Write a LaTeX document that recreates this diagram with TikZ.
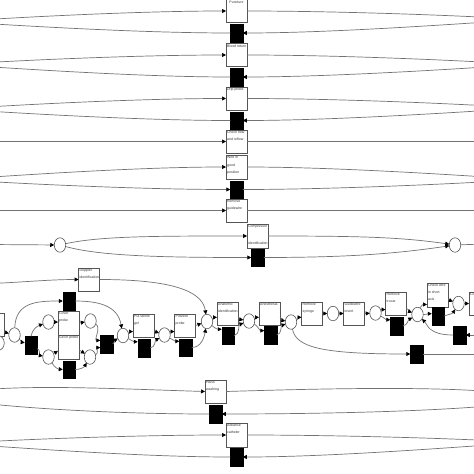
\documentclass[tikz,border=0pt]{standalone}
\usepackage{fontspec}
\setmainfont{Liberation Sans}
\usetikzlibrary{arrows.meta,shapes.geometric,calc}
\definecolor{linec}{HTML}{737373}
\definecolor{boxc}{HTML}{555555}
\definecolor{txtc}{HTML}{333333}
\tikzset{
 tbox/.style={draw=boxc,line width=0.6pt,fill=white,minimum width=21pt,minimum height=23pt,inner sep=0pt,outer sep=0pt},
 blk/.style={draw=black,fill=black,line width=0.2pt,minimum width=12.5pt,minimum height=17.5pt,inner sep=0pt,outer sep=0pt},
 pl/.style={ellipse,draw=boxc,line width=0.6pt,fill=white,minimum width=11.5pt,minimum height=14.5pt,inner sep=0pt,outer sep=0pt},
 conn/.style={draw=linec,line width=0.7pt},
 conna/.style={conn,-{Triangle[length=4pt,width=4pt,color=black]}},
 lbl/.style={font=\fontsize{3.5}{6.8}\selectfont,text=txtc,align=left,inner sep=1pt,anchor=north west},
}
\newcommand{\drawlens}[4]{%
 \draw[conna] (#1) .. controls +(60,4) and +(-90,0) .. (#2.west);
 \draw[conn] (#2.east) .. controls +(90,0) and +(-60,4) .. (#4);
 \draw[conna] (#4) .. controls +(-60,-4) and +(90,0) .. (#3.east);
 \draw[conn] (#3.west) .. controls +(-90,0) and +(60,-4) .. (#1);
}
\begin{document}
\begin{tikzpicture}[x=1pt,y=1pt]
\useasboundingbox (0,0) rectangle (474,-474);
\clip (0,0) rectangle (474,-474);
\fill[white] (0,0) rectangle (474,-474);

% ---------- top column ----------
\node[tbox] (P1) at (236.5,-11) {};
\node[lbl,anchor=north,align=center] (P1t) at (P1.north) {Puncture};
\node[blk] (T1) at (236.5,-33) {};
\node[tbox] (P2) at (236.5,-55) {};
\node[lbl] (P2t) at (P2.north west) {Blood return};
\node[blk] (T2) at (236.5,-77) {};
\node[tbox] (P3) at (236.5,-98.5) {};
\node[lbl] (P3t) at (P3.north west) {Drip probe};
\node[blk] (T3) at (236.5,-120.5) {};
\node[tbox] (P4) at (236.5,-141.5) {};
\node[lbl] (P4t) at (P4.north west) {Check flow\\and reflow};
\node[tbox,minimum height=24pt] (P5) at (236.5,-167) {};
\node[lbl,font=\fontsize{3.5}{7.5}\selectfont] (P5t) at (P5.north west) {Wire in\\good\\position};
\node[blk] (T5) at (236.5,-189.5) {};
\node[tbox] (P6) at (236.5,-210.5) {};
\node[lbl] (P6t) at (P6.north west) {Remove\\guidewire};
\node[tbox,minimum height=24pt] (P7) at (257.5,-236) {};
\node[lbl] (P7t) at (P7.north west) {Compressor\\[10pt]identification};
\node[blk] (T7) at (257.5,-257.5) {};
\node[pl] (L7) at (60,-245) {};
\node[pl] (R7) at (455,-245) {};

\coordinate (L1) at (-45,-21.5); \coordinate (R1) at (524,-19.5);
\coordinate (L2) at (-45,-64.5); \coordinate (R2) at (524,-64.5);
\coordinate (L3) at (-45,-109);  \coordinate (R3) at (524,-108);
\coordinate (L4) at (-45,-141.5); \coordinate (R4) at (524,-141.5);
\coordinate (L5) at (-45,-179.5); \coordinate (R5) at (524,-179.5);
\coordinate (L6) at (-45,-210.5); \coordinate (R6) at (524,-210.5);
\coordinate (E7l) at (-10,-244.5); \coordinate (E7r) at (484,-244);

\drawlens{L1}{P1}{T1}{R1}
\drawlens{L2}{P2}{T2}{R2}
\drawlens{L3}{P3}{T3}{R3}
\draw[conna] (L4) -- (P4.west);
\draw[conn] (P4.east) -- (R4);
\draw[conna] (L5) .. controls +(60,4) and +(-90,0) .. (P5.west);
\draw[conn] (P5.east) .. controls +(90,0) and +(-60,4) .. (R5);
\draw[conna] (L5) .. controls +(60,-4) and +(-90,0) .. (T5.west);
\draw[conn] (T5.east) .. controls +(90,0) and +(-60,-4) .. (R5);
\draw[conna] (L6) -- (P6.west);
\draw[conn] (P6.east) -- (R6);

\draw[conna] (E7l) -- (L7);
\draw[conna] (L7) .. controls +(40,9) and +(-90,0) .. (P7.west);
\draw[conna] (L7) .. controls +(40,-11) and +(-90,0) .. (T7.west);
\draw[conna] (P7.east) .. controls +(90,0) and +(-55,8) .. (R7);
\draw[conna] (T7.east) .. controls +(90,0) and +(-55,-8) .. (R7);
\draw[conn] (R7) -- (E7r);

% ---------- Doppler ----------
\node[tbox] (D) at (89,-279.5) {};
\node[lbl] (Dt) at (D.north west) {Doppler\\identification};
\coordinate (ED) at (-10,-283.5);

% ---------- main chain ----------
\node[tbox] (B0) at (-6.5,-324.5) {};
\node[pl] (Pz) at (-1.5,-343) {};
\node[pl] (Pa) at (14.5,-335) {};
\node[blk] (Tb) at (31,-345) {};
\node[blk] (Tu) at (69,-301) {};
\node[pl] (Pc1) at (48.5,-322) {};
\node[pl] (Pc2) at (48.5,-357) {};
\node[tbox,minimum height=24pt] (CP) at (68.5,-323) {};
\node[lbl] (CPt) at (CP.north west) {Cover\\probe};
\node[tbox,minimum height=24pt] (GP) at (68.5,-347) {};
\node[lbl] (GPt) at (GP.north west) {Gel in probe};
\node[blk] (Tl) at (69,-369.5) {};
\node[pl] (Pd1) at (90.5,-321) {};
\node[pl] (Pd2) at (90,-357) {};
\node[blk] (Tj) at (106.5,-344) {};
\node[pl] (Pe) at (123,-335.5) {};
\node[tbox] (PSG) at (143.5,-325.5) {};
\node[lbl] (PSGt) at (PSG.north west) {Put sterile\\gel};
\node[blk] (Tpsg) at (144,-348) {};
\node[pl] (Pf) at (164.5,-335) {};
\node[tbox] (PP) at (185,-325.5) {};
\node[lbl] (PPt) at (PP.north west) {Position\\probe};
\node[blk] (Tpp) at (185.5,-347.5) {};
\node[pl] (A0) at (207,-321.5) {};
\node[tbox] (AI) at (227.5,-313.5) {};
\node[lbl] (AIt) at (AI.north west) {Anatomic\\identification};
\node[blk] (Tai) at (228,-335.5) {};
\node[pl] (Pg) at (249,-321) {};
\node[tbox] (AN) at (269.5,-313.5) {};
\node[lbl] (ANt) at (AN.north west) {Anesthesia};
\node[blk] (Tan) at (270.5,-335) {};
\node[pl] (Ph) at (291,-322) {};
\node[tbox] (RS) at (312,-313.5) {};
\node[lbl] (RSt) at (RS.north west) {Remove\\syringe};
\node[pl] (Pi) at (333,-313.5) {};
\node[tbox] (GI) at (354,-313.5) {};
\node[lbl] (GIt) at (GI.north west) {Guidewire\\insert};
\node[pl] (Pj) at (375.5,-313) {};
\node[tbox] (RT) at (396,-303.5) {};
\node[lbl] (RTt) at (RT.north west) {Remove\\trocar};
\node[blk] (Trt) at (396.5,-326) {};
\node[pl] (Pk) at (417.5,-314.5) {};
\node[tbox,minimum height=24pt] (CW) at (437.5,-295) {};
\node[lbl] (CWt) at (CW.north west) {Check wire\\in short\\axis};
\node[blk] (Tcw) at (438,-316) {};
\node[pl] (Pl) at (458.5,-303.5) {};
\node[tbox] (Co) at (479.5,-303.5) {};
\node[lbl] (Cot) at (Co.north west) {Co};
\node[blk] (Tr) at (459.5,-335) {};
\node[blk] (Tbot) at (416.5,-354) {};
\coordinate (Er) at (490,-335);
\coordinate (Eb) at (490,-354);

\draw[conna] (ED) .. controls +(30,1) and +(-30,0) .. (D.west);
\draw[conna] (D.east) .. controls +(85,0) and +(-4,26) .. (A0);

\draw[conna] ($(B0.south east)+(0,4)$) -- (Pa);
\draw[conna] (Pa) to[out=88,in=180,looseness=1.2] (Tu.west);
\draw[conna] (Pa) to[out=-40,in=170] (Tb.160);
\draw[conna] (Tb.north) to[out=80,in=200] (Pc1);
\draw[conna] (Tb.-30) to[out=-20,in=170] (Pc2);
\draw[conna] (Pc1) -- (CP.175);
\draw[conna] (Pc2) -- (GP.-160);
\draw[conna] (Pc2) to[out=-60,in=175] (Tl.west);
\draw[conna] (CP.east) -- (Pd1);
\draw[conna] (GP.-15) -- (Pd2);
\draw[conna] (Tl.east) to[out=0,in=-120] (Pd2);
\draw[conna] (Pd1) to[out=-30,in=180] (Tj.150);
\draw[conna] (Pd2) to[out=20,in=180] (Tj.-150);
\draw[conna] (Tj.east) to[out=20,in=-150] (Pe);
\draw[conna] (Tu.east) to[out=0,in=100,looseness=1.1] (Pe);
\draw[conna] (Pe) to[out=20,in=180] (PSG.-150);
\draw[conna] (Pe) to[out=-30,in=180] (Tpsg.135);
\draw[conna] (PSG.-30) to[out=-10,in=160] (Pf);
\draw[conna] (Tpsg.east) to[out=10,in=-150] (Pf);
\draw[conna] (Pf) to[out=30,in=180] (PP.-150);
\draw[conna] (Pf) to[out=-30,in=180] (Tpp.135);
\draw[conna] (PP.east) -- (A0);
\draw[conna] (Tpp.east) to[out=0,in=-100] (A0);
\draw[conna] (A0) to[out=20,in=180] (AI.-160);
\draw[conna] (A0) to[out=-40,in=180] (Tai.135);
\draw[conna] (AI.-20) to[out=-10,in=170] (Pg);
\draw[conna] (Tai.east) to[out=10,in=-160] (Pg);
\draw[conna] (Pg) to[out=20,in=180] (AN.-160);
\draw[conna] (Pg) to[out=-30,in=180] (Tan.145);
\draw[conna] (AN.-20) to[out=-10,in=170] (Ph);
\draw[conna] (Tan.east) to[out=10,in=-160] (Ph);
\draw[conna] (Ph) to[out=20,in=180] (RS.-160);
\draw[conna] (Ph) .. controls +(5,-25) and +(-90,0) .. (Tbot.west);
\draw[conna] (RS.east) -- (Pi);
\draw[conna] (Pi) -- (GI.west);
\draw[conna] (GI.east) -- (Pj);
\draw[conna] (Pj) to[out=30,in=180] (RT.-150);
\draw[conna] (Pj) to[out=-30,in=180] (Trt.135);
\draw[conna] (RT.-25) to[out=-10,in=160] (Pk);
\draw[conna] (Trt.east) to[out=10,in=-150] (Pk);
\draw[conna] (Pk) to[out=70,in=180] (CW.-138);
\draw[conna] (Pk) to[out=0,in=180] (Tcw.160);
\draw[conna] (CW.-20) to[out=-10,in=160] (Pl);
\draw[conna] (Tcw.east) to[out=20,in=-120] (Pl);
\draw[conna] (Pl) -- (Co.west);
\draw[conna] (Er) -- (Tr.east);
\draw[conna] (Tr.west) .. controls +(-25,0) and +(10,-10) .. (Pk);
\draw[conn] (Tbot.east) -- (Eb);

% ---------- bottom rows ----------
\node[tbox] (H) at (215.5,-391.5) {};
\node[lbl] (Ht) at (H.north west) {Hand\\washing};
\node[blk] (TH) at (215.5,-414) {};
\node[tbox,minimum height=24pt] (AC) at (236.5,-435) {};
\node[lbl] (ACt) at (AC.north west) {Advance\\catheter};
\node[blk] (TA) at (236.5,-457) {};
\coordinate (LH) at (-60,-397); \coordinate (RH) at (540,-399);
\coordinate (LA) at (-45,-443.5); \coordinate (RA) at (524,-442.5);

\draw[conna] (LH) .. controls +(50,15) and +(-100,3) .. (H.west);
\draw[conn] (H.east) .. controls +(100,3) and +(-50,15) .. (RH);
\draw[conna] (RH) .. controls +(-50,-12) and +(100,0) .. (TH.east);
\draw[conn] (TH.west) .. controls +(-100,0) and +(50,-10) .. (LH);
\drawlens{LA}{AC}{TA}{RA}
\end{tikzpicture}
\end{document}
